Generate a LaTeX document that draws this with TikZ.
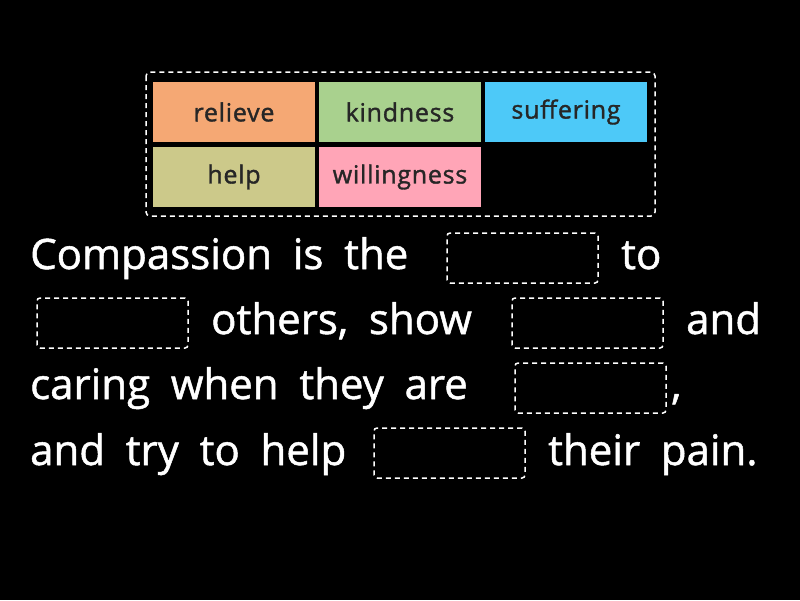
\documentclass[tikz,border=0pt]{standalone}
\usepackage{fontspec}
\setmainfont{Open Sans}
\newfontfamily\semib{Open Sans}[FakeBold=1.2,WordSpace={1.9}]
\newfontfamily\tileb{Open Sans}[FakeBold=1.4,LetterSpace=3]
\definecolor{cOr}{HTML}{F5A874}
\definecolor{cGr}{HTML}{A9D18E}
\definecolor{cBl}{HTML}{4DC9F8}
\definecolor{cKh}{HTML}{CCC98A}
\definecolor{cPk}{HTML}{FFA5B7}
\begin{document}
\begin{tikzpicture}[x=1pt,y=-1pt,
 tile/.style={minimum width=162pt,minimum height=60pt,inner sep=0,font=\tileb\fontsize{25}{28}\selectfont,text=black!85},
 blank/.style={draw=white,line width=1.5pt,rounded corners=3pt,minimum width=151pt,minimum height=50pt,inner sep=0,dash pattern=on 5pt off 4pt},
 word/.style={anchor=base west,text=white,inner sep=0,font=\semib\fontsize{42}{48}\selectfont}]
\fill[black] (0,0) rectangle (800,600);
\draw[white,line width=1.5pt,rounded corners=4pt,dash pattern=on 5pt off 4pt] (146,72) rectangle (655,216);
\node[tile,fill=cOr] (t1) at (234,112) {relieve};
\node[tile,fill=cGr] (t2) at (400,112) {kindness};
\node[tile,fill=cBl] (t3) at (566,112) {suffering};
\node[tile,fill=cKh] (t4) at (234,177) {help};
\node[tile,fill=cPk] (t5) at (400,177) {willingness};
\node[blank] (b1) at (522.5,258) {};
\node[blank] (b2) at (112.5,323) {};
\node[blank] (b3) at (587.5,323) {};
\node[blank] (b4) at (590.5,388) {};
\node[blank] (b5) at (449.5,453) {};
\node[word] (w1) at (30,269) {Compassion is the};
\node[word] (w2) at (621,269) {to};
\node[word] (w3) at (211,334) {others, show};
\node[word] (w4) at (686,334) {and};
\node[word] (w5) at (30,399) {caring when they are};
\node[word] (w6) at (671,399) {,};
\node[word] (w7) at (30,465) {and try to help};
\node[word] (w8) at (548,465) {their pain.};
\end{tikzpicture}
\end{document}
